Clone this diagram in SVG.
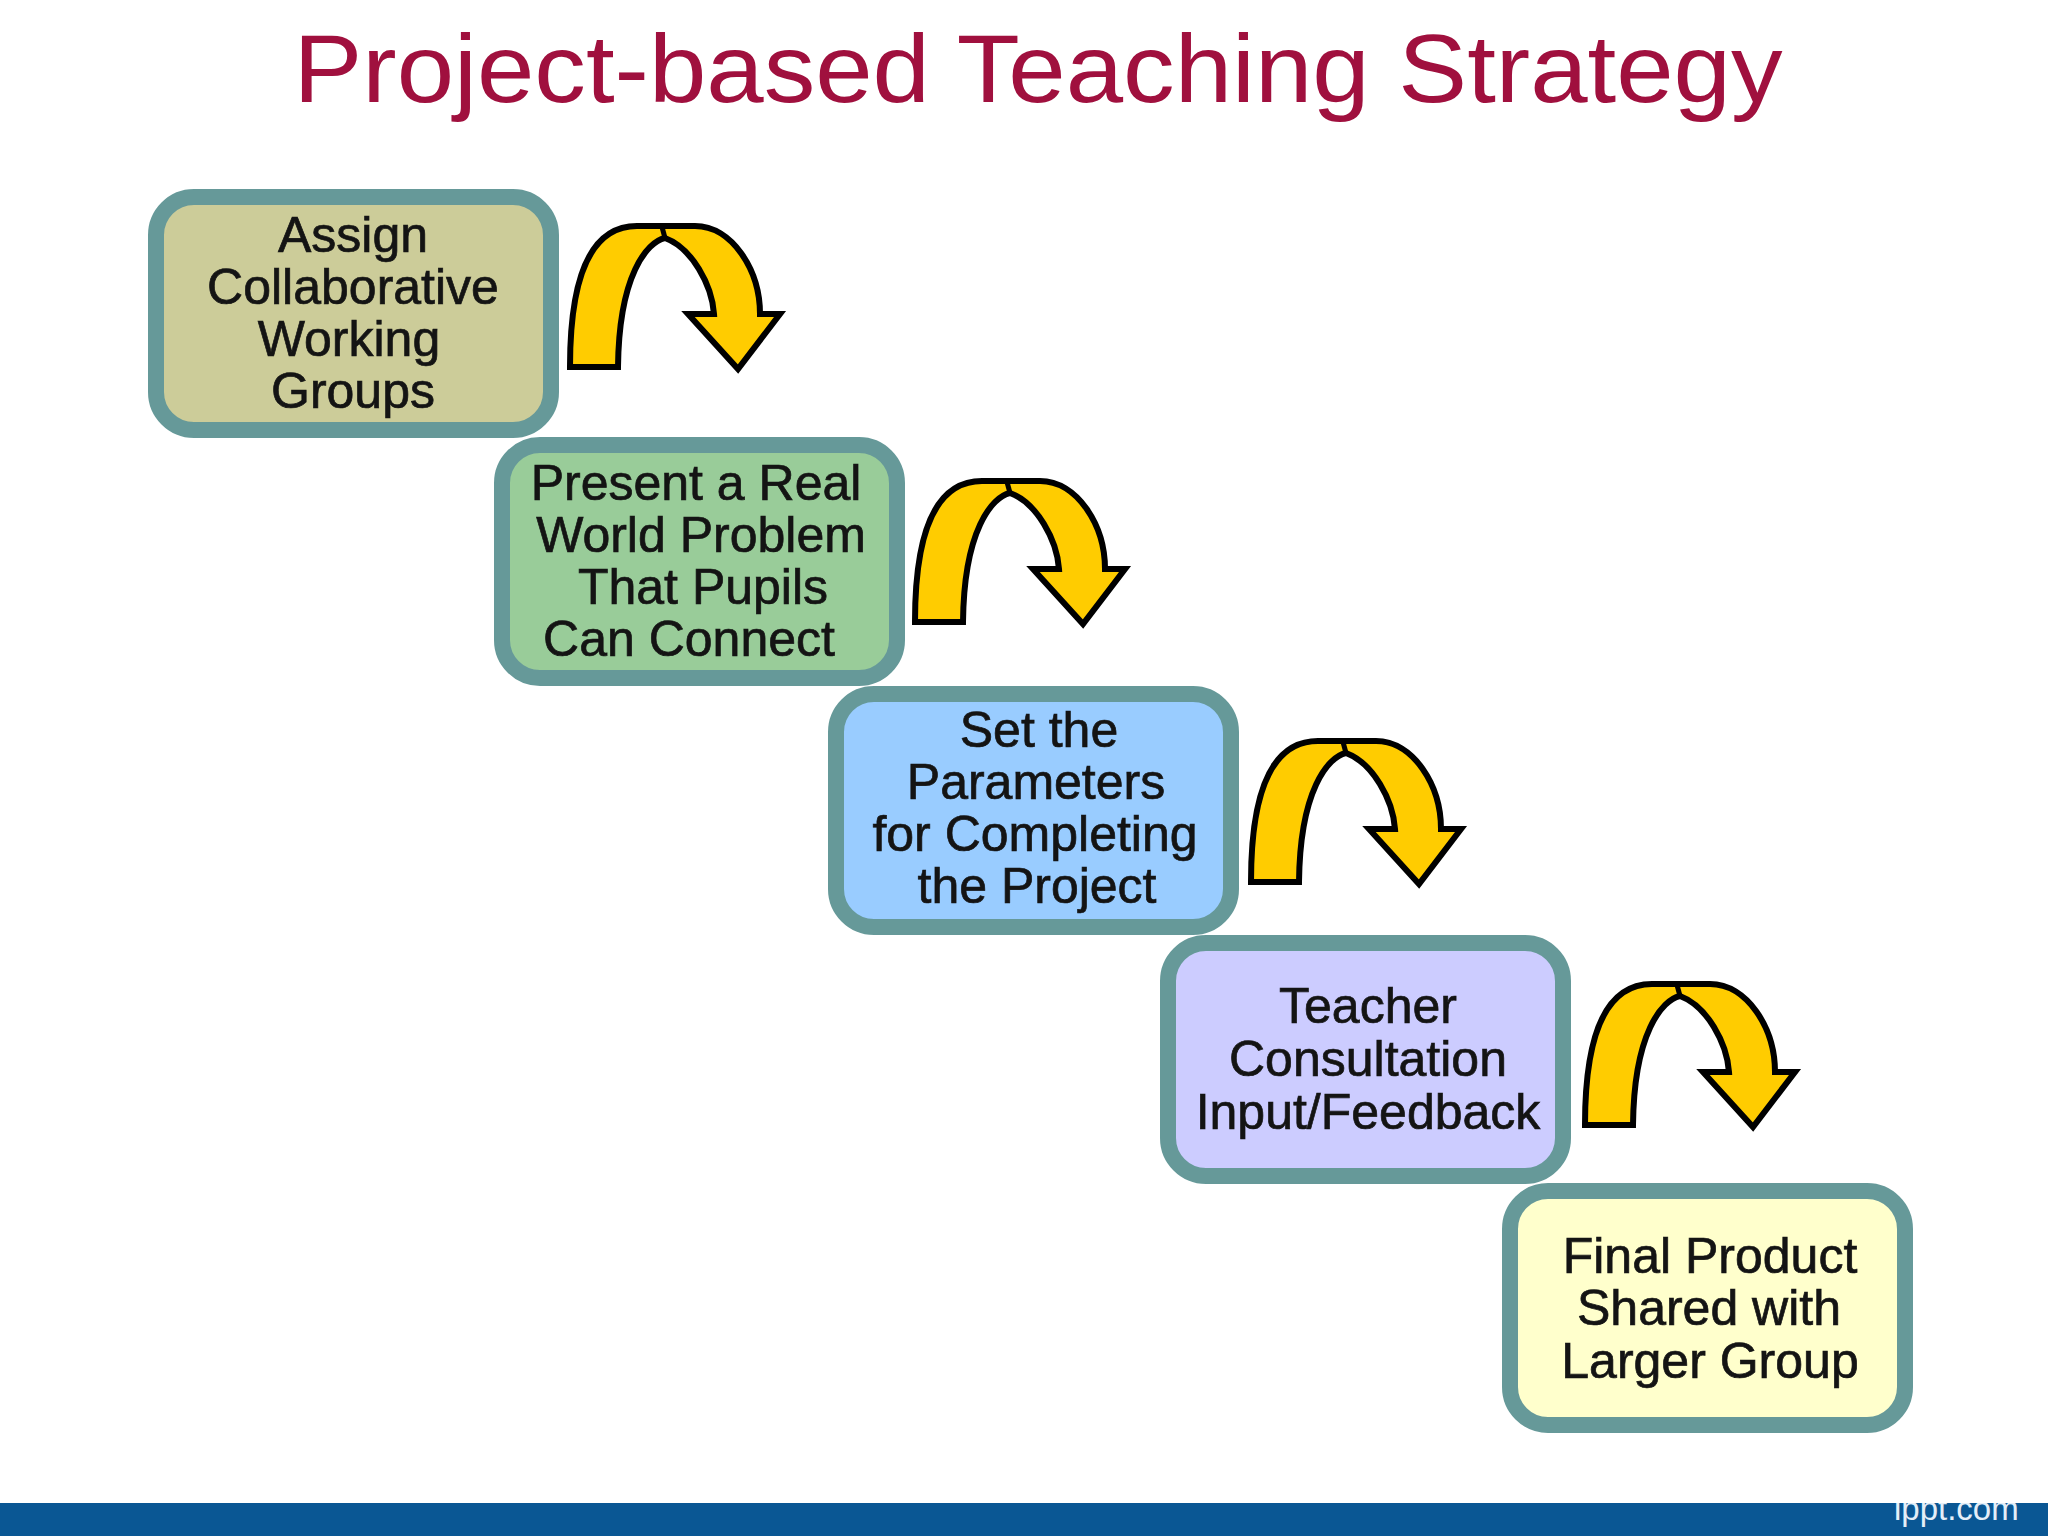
<svg xmlns="http://www.w3.org/2000/svg" width="2048" height="1536" viewBox="0 0 2048 1536">
  <style>
    .box { stroke: #669999; stroke-width: 16; }
    .lbl { font-family: "Liberation Sans", Arial, sans-serif; font-size: 50px; fill: #141414; stroke: #141414; stroke-width: 0.7; text-anchor: middle; }
    .title { font-family: "Liberation Sans", Arial, sans-serif; font-size: 97px; fill: #A0103E; text-anchor: middle; }
    .arrow { fill: #FFCC00; stroke: #000000; stroke-width: 6; stroke-linejoin: miter; }
    .seam { fill: none; stroke: #000000; stroke-width: 5; }
  </style>
  <defs>
    <g id="uturn">
      <path class="arrow" d="M 3,-3 C 3,-95 25,-144 70,-144 L 128,-144 C 165,-144 193,-100 193,-56 L 213,-56 L 171,-1 L 121,-56 L 147,-56 C 145,-85 125,-122 98,-132 C 80,-128 52,-95 51,-3 Z"/>
      <path class="seam" d="M 98,-132 L 95,-143"/>
    </g>
    <clipPath id="barclip"><rect x="0" y="1503" width="2048" height="33"/></clipPath>
  </defs>

  <rect x="0" y="0" width="2048" height="1536" fill="#FFFFFF"/>

  <text class="title" x="1038" y="102" textLength="1489" lengthAdjust="spacingAndGlyphs">Project-based Teaching Strategy</text>

  <g id="connectors">
    <use href="#uturn" transform="translate(567,370)"/>
    <use href="#uturn" transform="translate(912,625)"/>
    <use href="#uturn" transform="translate(1248,885)"/>
    <use href="#uturn" transform="translate(1582,1128)"/>
  </g>

  <g id="node1">
    <rect class="box" x="156" y="197" width="395" height="233" rx="38" fill="#CCCC99"/>
    <text class="lbl" x="353" y="252">Assign</text>
    <text class="lbl" x="353" y="304">Collaborative</text>
    <text class="lbl" x="349" y="356">Working</text>
    <text class="lbl" x="353" y="408">Groups</text>
  </g>

  <g id="node2">
    <rect class="box" x="502" y="445" width="395" height="233" rx="38" fill="#99CC99"/>
    <text class="lbl" x="696" y="500">Present a Real</text>
    <text class="lbl" x="701" y="552">World Problem</text>
    <text class="lbl" x="703" y="604">That Pupils</text>
    <text class="lbl" x="689" y="656">Can Connect</text>
  </g>

  <g id="node3">
    <rect class="box" x="836" y="694" width="395" height="233" rx="38" fill="#99CCFF"/>
    <text class="lbl" x="1039" y="747">Set the</text>
    <text class="lbl" x="1036" y="799">Parameters</text>
    <text class="lbl" x="1035" y="851">for Completing</text>
    <text class="lbl" x="1037" y="903">the Project</text>
  </g>

  <g id="node4">
    <rect class="box" x="1168" y="943" width="395" height="233" rx="38" fill="#CCCCFF"/>
    <text class="lbl" x="1368" y="1023">Teacher</text>
    <text class="lbl" x="1368" y="1076">Consultation</text>
    <text class="lbl" x="1368" y="1129">Input/Feedback</text>
  </g>

  <g id="node5">
    <rect class="box" x="1510" y="1191" width="395" height="234" rx="38" fill="#FFFFCC"/>
    <text class="lbl" x="1710" y="1273">Final Product</text>
    <text class="lbl" x="1709" y="1325">Shared with</text>
    <text class="lbl" x="1710" y="1378">Larger Group</text>
  </g>

  <rect x="0" y="1503" width="2048" height="33" fill="#0A5794"/>
  <text x="1894" y="1520" clip-path="url(#barclip)" font-family="Liberation Sans, Arial, sans-serif" font-size="33" fill="#E4EEF8">ippt.com</text>
</svg>
